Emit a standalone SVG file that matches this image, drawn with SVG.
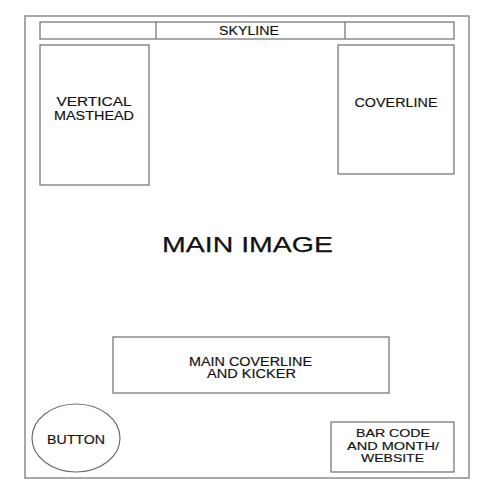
<svg xmlns="http://www.w3.org/2000/svg" width="495" height="495" viewBox="0 0 495 495">
<style>
.box{fill:#fff;stroke:#6e6e6e;stroke-width:1.2}
.frame{fill:#fff;stroke:#8c8c8c;stroke-width:1.5}
.t{font-family:"Liberation Sans",Arial,sans-serif;font-size:12px;fill:#111;stroke:#111;stroke-width:0.15;text-anchor:middle}
.sm{font-size:11.5px}
.big{font-size:22px;stroke-width:0.25}
</style>
<rect width="495" height="495" fill="#fff"/>
<g id="frame"><rect class="frame" x="25" y="16" width="444" height="462"/></g>
<g id="skyline">
<rect class="box" x="40" y="22" width="414" height="17"/>
<line class="box" x1="156" y1="22" x2="156" y2="39"/>
<line class="box" x1="345" y1="22" x2="345" y2="39"/>
<text class="t" x="249" y="35" textLength="60" lengthAdjust="spacingAndGlyphs">SKYLINE</text>
</g>
<g id="masthead">
<rect class="box" x="40" y="45" width="109" height="140"/>
<text class="t" x="94" y="106" textLength="75" lengthAdjust="spacingAndGlyphs">VERTICAL</text>
<text class="t" x="94" y="120" textLength="80" lengthAdjust="spacingAndGlyphs">MASTHEAD</text>
</g>
<g id="coverline">
<rect class="box" x="338" y="45" width="116" height="129"/>
<text class="t" x="396" y="107" textLength="83" lengthAdjust="spacingAndGlyphs">COVERLINE</text>
</g>
<g id="main-image">
<text class="t big" x="247.5" y="252" textLength="171" lengthAdjust="spacingAndGlyphs">MAIN IMAGE</text>
</g>
<g id="main-coverline">
<rect class="box" x="113" y="337" width="276" height="56"/>
<text class="t" x="250.5" y="365.8" textLength="123" lengthAdjust="spacingAndGlyphs">MAIN COVERLINE</text>
<text class="t" x="251.5" y="378.3" textLength="89" lengthAdjust="spacingAndGlyphs">AND KICKER</text>
</g>
<g id="button">
<ellipse class="box" cx="76" cy="438" rx="44" ry="34"/>
<text class="t" x="76" y="444" textLength="58" lengthAdjust="spacingAndGlyphs">BUTTON</text>
</g>
<g id="barcode">
<rect class="box" x="331" y="422" width="123" height="50"/>
<text class="t sm" x="393" y="437.3" textLength="74" lengthAdjust="spacingAndGlyphs">BAR CODE</text>
<text class="t sm" x="393" y="449.5" textLength="92" lengthAdjust="spacingAndGlyphs">AND MONTH/</text>
<text class="t sm" x="392.5" y="461.8" textLength="63" lengthAdjust="spacingAndGlyphs">WEBSITE</text>
</g>
<g id="connectors"></g>
</svg>
